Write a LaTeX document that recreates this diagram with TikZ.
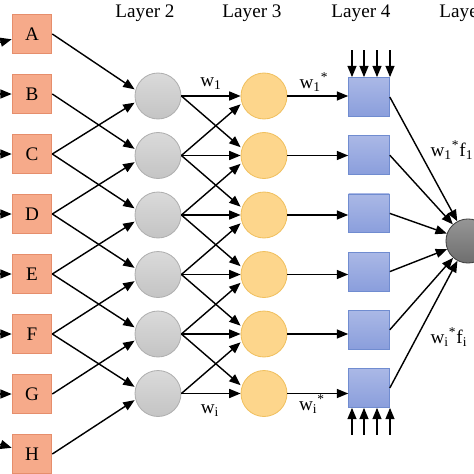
\documentclass[tikz,border=0pt]{standalone}
\usepackage{fontspec}
\setmainfont{Liberation Serif}
\usetikzlibrary{arrows.meta, positioning, calc}

\definecolor{inorange}{RGB}{246,170,138}
\definecolor{inborder}{RGB}{230,142,108}
\definecolor{greytop}{RGB}{218,218,218}
\definecolor{greybot}{RGB}{196,196,196}
\definecolor{greyborder}{RGB}{175,175,175}
\definecolor{yellowfill}{RGB}{253,214,140}
\definecolor{yellowborder}{RGB}{240,192,95}
\definecolor{bluetop}{RGB}{170,184,230}
\definecolor{bluebot}{RGB}{138,158,220}
\definecolor{blueborder}{RGB}{112,140,208}
\definecolor{outtop}{RGB}{150,150,150}
\definecolor{outbot}{RGB}{110,110,110}

\begin{document}
\begin{tikzpicture}[x=0.211mm, y=-0.211mm, font=\fontsize{11.5}{13}\selectfont,
    >={Triangle[length=2.4mm,width=1.9mm]}, line width=0.85pt,
    inbox/.style={draw=inborder, fill=inorange, line width=0.5pt, minimum size=8.4mm, inner sep=0pt},
    hidnode/.style={circle, draw=greyborder, top color=greytop, bottom color=greybot, line width=0.5pt, minimum size=9.7mm, inner sep=0pt},
    rulenode/.style={circle, draw=yellowborder, fill=yellowfill, line width=0.5pt, minimum size=9.7mm, inner sep=0pt},
    normbox/.style={draw=blueborder, top color=bluetop, bottom color=bluebot, line width=0.5pt, minimum width=8.6mm, minimum height=8.2mm, inner sep=0pt},
    outnode/.style={circle, draw=black!75, top color=outtop, bottom color=outbot, line width=0.5pt, minimum size=9.3mm, inner sep=0pt}]
    \clip (0,0) rectangle (474,474);

    % Layer titles
    \node (lay2) at (145,13) {Layer 2};
    \node (lay3) at (252,13) {Layer 3};
    \node (lay4) at (361,13) {Layer 4};
    \node (lay5) at (469,13) {Layer 5};

    % Layer 1
    \foreach \l [count=\i] in {A,B,C,D,E,F,G,H} {
        \node[inbox] (in\i) at (32, {34+60*(\i-1)}) {\l};
    }
    \coordinate (s1) at (-14,46);
    \coordinate (s8) at (-14,440);
    \foreach \i in {2,...,7} {
        \coordinate (s\i) at (-14, {34+60*(\i-1)});
    }
    \foreach \i in {1,...,8} {
        \draw[->] (s\i) -- (in\i);
    }

    % Layer 2 and 3
    \foreach \i in {1,...,6} {
        \node[hidnode] (g\i) at (158, {96+59.5*(\i-1)}) {};
        \node[rulenode] (y\i) at (264, {96+59.5*(\i-1)}) {};
    }
    \foreach \i in {1,...,6} {
        \pgfmathtruncatemacro\j{\i+2}
        \draw[->] (in\i.east) -- ([yshift=4pt]g\i.west);
        \draw[->] (in\j.east) -- ([yshift=-4pt]g\i.west);
        \draw[->] (g\i.east) -- (y\i.west);
    }
    \foreach \i in {1,...,5} {
        \pgfmathtruncatemacro\k{\i+1}
        \draw[->] (g\i.east) -- ([yshift=5pt]y\k.west);
        \draw[->] (g\k.east) -- ([yshift=-5pt]y\i.west);
    }

    % Layer 4
    \foreach \i in {1,...,6} {
        \node[normbox] (b\i) at (369, {97+58.2*(\i-1)}) {};
        \draw[->] (y\i.east) -- (y\i.east -| b\i.west);
    }
    \foreach \s [count=\k] in {-17,-5,8,21} {
        \coordinate (t\k) at ($(b1.north)+(\s,-27)$);
        \draw[->] (t\k) -- (t\k |- b1.north);
        \coordinate (u\k) at ($(b6.south)+(\s,27)$);
        \draw[->] (u\k) -- (u\k |- b6.south);
    }

    % Layer 5
    \node[outnode] (out) at (468,241) {};
    \foreach \i in {1,...,6} {
        \draw[->] (b\i.east) -- (out);
    }

    % Weights
    \node (lw1) at (211,84) {w\textsubscript{1}};
    \node (lwi) at (210,411) {w\textsubscript{i}};
    \node (lv1) at (314,82) {w\textsubscript{1}\textsuperscript{*}};
    \node (lvi) at (312,404) {w\textsubscript{i}\textsuperscript{*}};
    \node (lf1) at (452,150) {w\textsubscript{1}\textsuperscript{*}f\textsubscript{1}};
    \node (lfi) at (449,337) {w\textsubscript{i}\textsuperscript{*}f\textsubscript{i}};
\end{tikzpicture}
\end{document}
